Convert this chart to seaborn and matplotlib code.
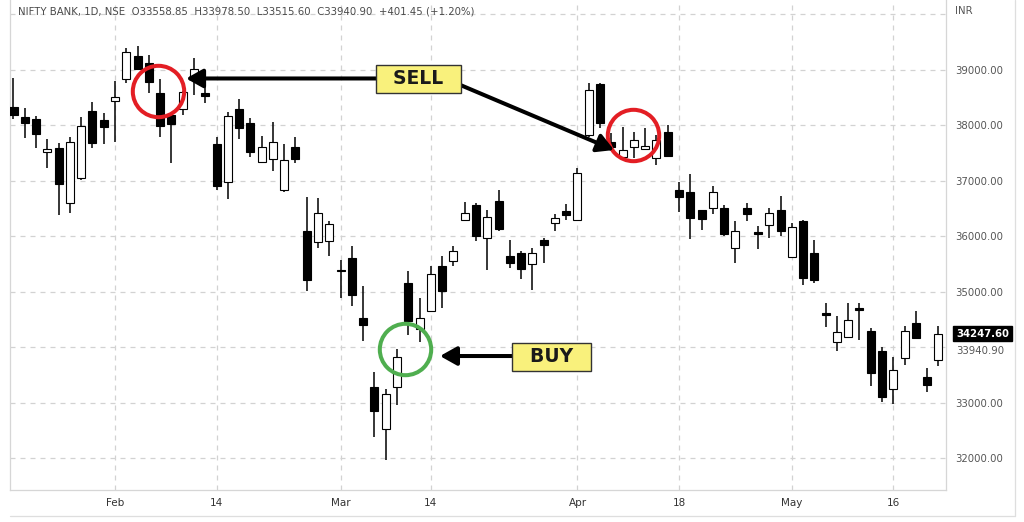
import numpy as np
import pandas as pd
import matplotlib
matplotlib.use("Agg")
import matplotlib.pyplot as plt
import matplotlib.transforms as mtransforms
from matplotlib.lines import Line2D
import seaborn as sns

# === Daily OHLC (18 Jan .. 20 May, trading days) ===
opens = [38340, 38150, 38110, 37520, 37600, 36600, 37060, 38260, 38100,
         38450, 38830, 39260, 39120, 38590, 38190, 38290, 38830, 38580,
         37660, 36980, 38290, 38050, 37340, 37400, 36830, 37620,
         36090, 35900, 35920, 35390, 35620, 34530, 33280, 32530, 33280,
         35170, 34330, 34660, 35470, 35560, 36300, 36560, 35970, 36640,
         35640, 35710, 35500, 35940, 36250, 36460, 36300,
         37830, 38740, 37710, 37430, 37620, 37580, 37410, 37890,
         36830, 36810, 36480, 36520, 36520, 35790, 36520, 36080, 36200, 36480,
         35630, 36270, 35710, 34600, 34090, 34190, 34710, 34300, 33940,
         33260, 33810, 34450, 33470, 33770]
highs = [38850, 38320, 38170, 37750, 37690, 37790, 38150, 38420, 38230,
         38800, 39390, 39430, 39270, 38830, 38230, 38620, 39210, 38820,
         37800, 38250, 38470, 38130, 37810, 38070, 37660, 37790,
         36720, 36700, 36270, 35580, 35820, 35110, 33550, 33260, 33970,
         35370, 34890, 35460, 35650, 35820, 36630, 36600, 36480, 36840,
         35940, 35730, 35790, 35980, 36410, 36580, 37230,
         38770, 38770, 37870, 37980, 37890, 37950, 37830, 38010,
         36990, 37130, 36480, 36910, 36570, 36270, 36600, 36180, 36510, 36730,
         36240, 36300, 35940, 34810, 34570, 34800, 34800, 34350, 34000,
         33820, 34380, 34650, 33630, 34380]
lows = [38110, 37770, 37590, 37230, 36390, 36420, 37020, 37590, 37670,
        37710, 38760, 39000, 38580, 37800, 37330, 38190, 38550, 38400,
        36840, 36670, 37760, 37430, 37330, 37180, 36800, 37330,
        35010, 35790, 35640, 34900, 34740, 34120, 32390, 31980, 32960,
        34230, 34100, 34660, 34710, 35470, 36280, 35910, 35400, 36090,
        35430, 35230, 35040, 35520, 36090, 36300, 36280,
        37790, 37950, 37620, 37430, 37410, 37560, 37290, 37430,
        36450, 35950, 36120, 36410, 36010, 35520, 36280, 35770, 35970, 36000,
        35620, 35130, 35160, 34360, 33940, 34190, 34140, 33310, 33020,
        32990, 33680, 34170, 33200, 33670]
closes = [38195, 38040, 37840, 37580, 36950, 37710, 37990, 37690, 37970,
          38510, 39320, 39010, 38780, 37990, 38020, 38610, 39010, 38530,
          36910, 38170, 37950, 37530, 37610, 37700, 37380, 37390,
          35220, 36430, 36220, 35370, 34950, 34410, 32860, 33160, 33820,
          34480, 34540, 35320, 35020, 35740, 36430, 36010, 36360, 36140,
          35530, 35410, 35710, 35850, 36340, 36380, 37140,
          38640, 38050, 37620, 37560, 37740, 37630, 37740, 37450,
          36720, 36340, 36320, 36810, 36040, 36090, 36410, 36040, 36420, 36090,
          36170, 35260, 35220, 34590, 34280, 34500, 34680, 33540, 33110,
          33590, 34300, 34170, 33320, 34247.60]

first_bar = -9  # 18 Jan, counted from 1 Feb
tick_pos = [0, 9, 20, 28, 41, 50, 60, 69]
tick_labels = ["Feb", "14", "Mar", "14", "Apr", "18", "May", "16"]
price_ticks = [32000, 33000, 34000, 35000, 36000, 37000, 38000, 39000, 40000]
hidden_ticks = [34000, 40000]

last_price = 34247.60
other_price = 33940.90
header = "NIFTY BANK, 1D, NSE  O33558.85  H33978.50  L33515.60  C33940.90  +401.45 (+1.20%)"

df = pd.DataFrame({"open": opens, "high": highs, "low": lows, "close": closes})
df["x"] = np.arange(len(df)) + first_bar
df["up"] = df["close"] >= df["open"]
df["bottom"] = df[["open", "close"]].min(axis=1)
df["body"] = (df["close"] - df["open"]).abs().clip(lower=30)

sns.set_theme(style="white")
plt.rcParams["font.family"] = ["DejaVu Sans"]

W, H = 1024, 522
fig = plt.figure(figsize=(W / 100, H / 100), dpi=100)
ax = fig.add_axes([10 / W, 32 / H, 936 / W, 490 / H])

# === Candles ===
ax.vlines(df["x"], df["low"], df["high"], color="black", lw=1.1, zorder=2)
ax.bar(df["x"], df["body"], bottom=df["bottom"], width=0.71,
       color=np.where(df["up"], "white", "black"), edgecolor="black",
       linewidth=0.8, zorder=3)

ax.set_xlim(-9.31, 73.67)
ax.set_ylim(31432, 40261)

# === Grid / axes ===
ax.set_yticks(price_ticks)
ax.set_yticklabels(["" if v in hidden_ticks else f"{v:.2f}" for v in price_ticks])
ax.yaxis.tick_right()
ax.set_xticks(tick_pos)
ax.set_xticklabels(tick_labels)
ax.grid(True, ls=(0, (4, 4)), color="#d2d2d2", lw=0.9, zorder=0)
ax.tick_params(axis="y", length=0, pad=6.5, labelsize=7.3, labelcolor="#555555")
ax.tick_params(axis="x", length=0, pad=6, labelsize=7.5, labelcolor="#333333")
ax.spines["top"].set_visible(False)
for s in ["left", "right", "bottom"]:
    ax.spines[s].set_color("#d6d6d6")
    ax.spines[s].set_linewidth(0.9)

fig.add_artist(Line2D([1015 / W, 1015 / W], [6 / H, 1], color="#dedede", lw=0.9))
fig.add_artist(Line2D([10 / W, 1015 / W], [6 / H, 6 / H], color="#dedede", lw=0.9))

fig.text(18 / W, 1 - 12 / H, header, va="center", fontsize=7.3, color="#4a4a4a")
fig.text(955 / W, 1 - 11 / H, "INR", va="center", fontsize=7.3, color="#555555")

trans = mtransforms.blended_transform_factory(ax.transAxes, ax.transData)
ax.text(1 + 10 / 936, last_price, f"{last_price:.2f}", transform=trans, va="center",
        fontsize=7.3, fontweight="bold", color="white",
        bbox=dict(boxstyle="square,pad=0.25", fc="black", ec="black"))
ax.text(1 + 10 / 936, other_price, f"{other_price:.2f}", transform=trans, va="center",
        fontsize=7.3, color="#555555")

# === Annotations ===
ax.plot([3.77], [38613], "o", ms=37, mfc="none", mec="#e31e24", mew=2.9, zorder=5)
ax.plot([45.88], [37834], "o", ms=37, mfc="none", mec="#e31e24", mew=2.9, zorder=5)
ax.plot([25.74], [33978], "o", ms=37, mfc="none", mec="#4fae4f", mew=2.9, zorder=5)

arrow = dict(arrowstyle="-|>,head_length=0.5,head_width=0.28", lw=2.9,
             color="black", mutation_scale=20, shrinkA=0, shrinkB=0)
ax.annotate("", xy=(6.3, 38847), xytext=(23.32, 38847), arrowprops=arrow, zorder=6)
ax.annotate("", xy=(44.24, 37558), xytext=(30.4, 38748), arrowprops=arrow, zorder=6)
ax.annotate("", xy=(28.81, 33846), xytext=(35.17, 33846), arrowprops=arrow, zorder=6)

box = dict(boxstyle="square,pad=0.25", fc="#f9f17c", ec="#333333", lw=1)
ax.text(26.9, 38838, "  SELL  ", ha="center", va="center", fontsize=13.5,
        fontweight="bold", color="#1a1a1a", bbox=box, zorder=7)
ax.text(38.71, 33834, "  BUY  ", ha="center", va="center", fontsize=13.5,
        fontweight="bold", color="#1a1a1a", bbox=box, zorder=7)

fig.savefig("out.png", dpi=100)
